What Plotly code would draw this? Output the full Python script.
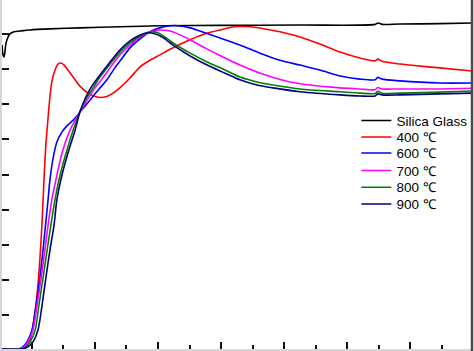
import plotly.graph_objects as go

# ---- data (arbitrary units; axis has no labels) ----
names = ["Silica Glass", "400 ℃", "600 ℃", "700 ℃", "800 ℃", "900 ℃"]
colors = ["#000000", "#ff0000", "#0000ff", "#ff00ff", "#008000", "#000080"]

silica_x = [0.05, 0.08, 0.11, 0.14, 0.17, 0.24, 0.30, 0.43, 0.62, 0.94, 1.57, 2.52, 3.79, 5.06, 6.97, 9.51, 11.89, 11.98, 12.11, 12.68, 13.95, 14.97]
silica_y = [8.69, 8.41, 8.35, 8.49, 8.72, 8.92, 9.01, 9.07, 9.09, 9.12, 9.15, 9.18, 9.21, 9.24, 9.25, 9.26, 9.28, 9.32, 9.28, 9.29, 9.30, 9.32]

t400_x = [0.05, 0.62, 0.78, 0.94, 1.06, 1.16, 1.25, 1.32, 1.38, 1.44, 1.51, 1.57, 1.63, 1.73, 1.83, 1.92, 2.02, 2.14, 2.33, 2.52, 2.78, 3.06, 3.32, 3.54, 3.79, 4.11, 4.43, 4.75, 5.06, 5.54, 6.02, 6.49, 6.97, 7.44, 7.92, 8.40, 8.87, 9.51, 10.14, 10.78, 11.41, 11.89, 11.98, 12.11, 12.68, 13.32, 13.95, 14.97]
t400_y = [0.03, 0.03, 0.06, 0.29, 0.86, 1.57, 2.57, 3.65, 4.85, 5.84, 6.61, 7.21, 7.64, 7.98, 8.15, 8.18, 8.12, 7.98, 7.75, 7.52, 7.32, 7.21, 7.21, 7.30, 7.47, 7.75, 8.07, 8.26, 8.41, 8.64, 8.84, 9.01, 9.12, 9.21, 9.21, 9.15, 9.07, 8.92, 8.72, 8.49, 8.32, 8.24, 8.29, 8.23, 8.15, 8.09, 8.04, 7.95]

t600_x = [0.05, 0.56, 0.71, 0.84, 1.00, 1.13, 1.25, 1.35, 1.44, 1.51, 1.57, 1.67, 1.79, 1.95, 2.08, 2.21, 2.37, 2.52, 2.68, 2.84, 3.00, 3.16, 3.38, 3.63, 3.89, 4.11, 4.43, 4.75, 5.06, 5.38, 5.63, 6.02, 6.33, 6.97, 7.60, 8.24, 8.87, 9.51, 10.14, 10.78, 11.41, 11.89, 11.98, 12.11, 12.68, 13.95, 14.97]
t600_y = [0.03, 0.03, 0.09, 0.23, 0.57, 1.28, 2.05, 2.85, 3.65, 4.28, 4.85, 5.47, 5.93, 6.21, 6.36, 6.47, 6.61, 6.78, 6.95, 7.12, 7.30, 7.47, 7.70, 8.04, 8.35, 8.61, 8.87, 9.07, 9.18, 9.24, 9.24, 9.18, 9.09, 8.89, 8.69, 8.46, 8.26, 8.12, 7.98, 7.81, 7.72, 7.70, 7.77, 7.72, 7.67, 7.61, 7.61]

t700_x = [0.05, 0.56, 0.75, 0.87, 1.03, 1.16, 1.29, 1.41, 1.51, 1.63, 1.79, 1.98, 2.24, 2.52, 2.75, 3.00, 3.22, 3.48, 3.79, 4.11, 4.43, 4.75, 5.06, 5.38, 5.70, 6.02, 6.49, 7.06, 7.60, 8.14, 8.71, 9.19, 9.83, 10.78, 11.41, 11.89, 11.98, 12.11, 12.68, 13.95, 14.97]
t700_y = [0.03, 0.03, 0.09, 0.23, 0.57, 1.28, 2.05, 2.85, 3.56, 4.28, 4.98, 5.70, 6.33, 6.78, 7.12, 7.47, 7.72, 8.04, 8.41, 8.69, 8.92, 9.07, 9.12, 9.09, 8.98, 8.84, 8.61, 8.35, 8.12, 7.92, 7.75, 7.64, 7.55, 7.47, 7.44, 7.42, 7.48, 7.44, 7.44, 7.44, 7.46]

t800_x = [0.05, 0.62, 0.81, 0.94, 1.10, 1.22, 1.35, 1.48, 1.60, 1.73, 1.89, 2.11, 2.33, 2.52, 2.71, 2.94, 3.16, 3.48, 3.79, 4.11, 4.43, 4.75, 5.00, 5.22, 5.48, 6.02, 6.56, 7.13, 7.60, 8.14, 8.65, 9.51, 10.78, 11.41, 11.89, 11.98, 12.11, 12.68, 13.95, 14.97]
t800_y = [0.03, 0.03, 0.09, 0.23, 0.57, 1.28, 2.05, 2.85, 3.56, 4.28, 4.98, 5.70, 6.33, 6.78, 7.15, 7.47, 7.78, 8.15, 8.49, 8.75, 8.95, 9.07, 9.04, 8.92, 8.75, 8.46, 8.21, 7.98, 7.78, 7.64, 7.55, 7.44, 7.36, 7.32, 7.31, 7.37, 7.32, 7.32, 7.35, 7.38]

t900_x = [0.05, 0.68, 0.87, 1.03, 1.19, 1.32, 1.44, 1.57, 1.70, 1.79, 1.95, 2.17, 2.37, 2.52, 2.71, 2.90, 3.16, 3.48, 3.79, 4.11, 4.43, 4.68, 4.90, 5.13, 5.48, 6.02, 6.56, 7.13, 7.60, 8.14, 8.65, 9.51, 10.78, 11.41, 11.89, 11.98, 12.11, 12.68, 13.95, 14.97]
t900_y = [0.03, 0.03, 0.09, 0.23, 0.57, 1.28, 2.05, 2.85, 3.56, 4.28, 4.98, 5.70, 6.27, 6.78, 7.21, 7.52, 7.84, 8.21, 8.55, 8.81, 8.98, 9.04, 9.01, 8.92, 8.69, 8.38, 8.12, 7.89, 7.70, 7.55, 7.47, 7.36, 7.27, 7.24, 7.24, 7.30, 7.27, 7.27, 7.30, 7.32]

series_x = [silica_x, t400_x, t600_x, t700_x, t800_x, t900_x]
series_y = [silica_y, t400_y, t600_y, t700_y, t800_y, t900_y]

# legend row positions (paper fraction)
legend_rows = [0.654, 0.607, 0.561, 0.511, 0.463, 0.415]

fig = go.Figure()
for i, (nm, c, xs, ys) in enumerate(zip(names, colors, series_x, series_y)):
    lg = "legend" if i == 0 else f"legend{i+1}"
    fig.add_trace(go.Scatter(x=xs, y=ys, mode="lines", name=nm,
                             line=dict(color=c, width=1.6, shape="spline", smoothing=0.8),
                             legend=lg, showlegend=True))

legend_font = dict(family="Liberation Sans, Arial, sans-serif", size=13.5, color="#000")
layout_legends = {}
for i, yy in enumerate(legend_rows):
    key = "legend" if i == 0 else f"legend{i+1}"
    layout_legends[key] = dict(x=0.754, xanchor="left", y=yy, yanchor="middle",
                               bgcolor="rgba(0,0,0,0)", borderwidth=0, font=legend_font,
                               itemwidth=30, tracegroupgap=0)

fig.update_layout(
    width=474, height=351,
    margin=dict(l=2, r=2, t=0, b=2),
    paper_bgcolor="white", plot_bgcolor="white",
    showlegend=True,
    **layout_legends,
)
fig.update_xaxes(range=[0.048, 14.968], showgrid=False, zeroline=False,
                 showticklabels=False, ticks="inside", tick0=1, dtick=2,
                 ticklen=7, tickwidth=1.5, tickcolor="#111",
                 minor=dict(ticks="inside", dtick=1, ticklen=4, tickwidth=1.5, tickcolor="#111"),
                 showline=True, linecolor="#d6d6d6", linewidth=2)
fig.update_yaxes(range=[0.031, 9.974], showgrid=False, zeroline=False,
                 showticklabels=False, ticks="inside", tick0=0, dtick=1,
                 ticklen=7, tickwidth=1.5, tickcolor="#111",
                 showline=True, linecolor="#d6d6d6", linewidth=2)
fig.add_shape(type="line", xref="paper", yref="paper", x0=1.0, x1=1.0, y0=-0.01, y1=1,
              line=dict(color="#4a4a4a", width=2.5))

fig.write_html("out.html")
